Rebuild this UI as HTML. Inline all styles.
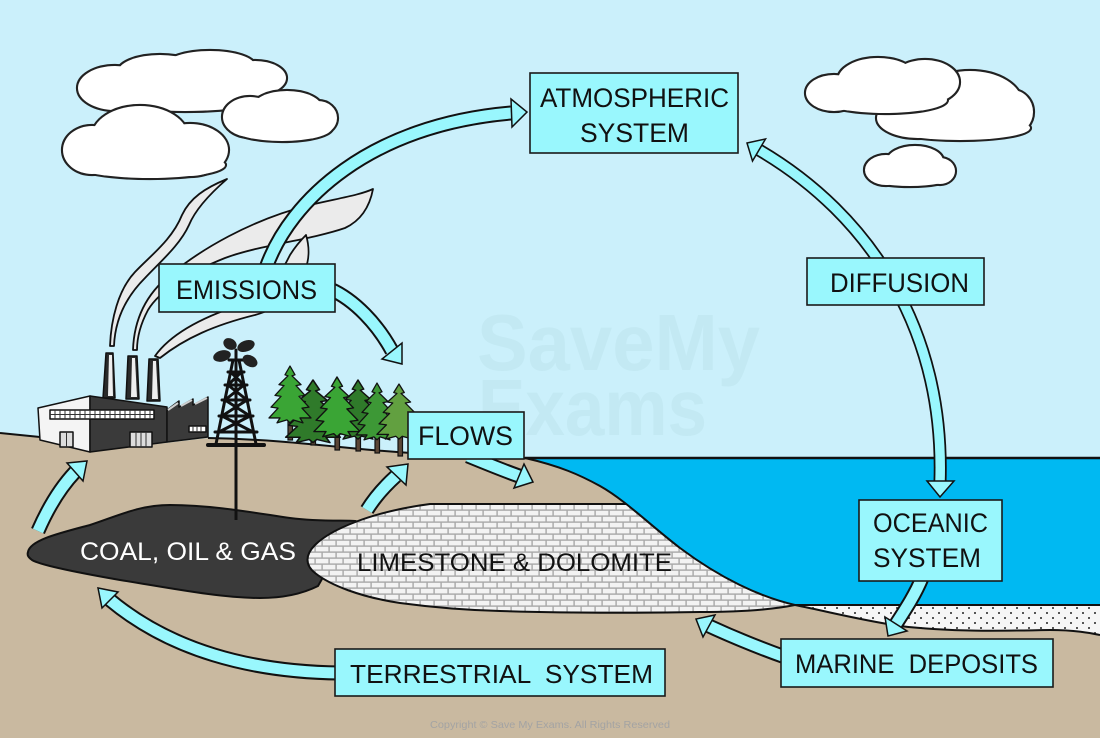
<!DOCTYPE html>
<html><head><meta charset="utf-8">
<style>html,body{margin:0;padding:0;background:#cbf0fb}svg{display:block}</style>
</head><body>
<svg width="1100" height="738" viewBox="0 0 1100 738" xmlns="http://www.w3.org/2000/svg">
<defs>
  <pattern id="brick" width="28" height="12" patternUnits="userSpaceOnUse">
    <rect width="28" height="12" fill="#a8a8a8"/>
    <rect x="0.8" y="0.8" width="12.6" height="4.6" fill="#f3f3f3"/>
    <rect x="14.8" y="0.8" width="12.6" height="4.6" fill="#f3f3f3"/>
    <rect x="-6.2" y="6.8" width="12.6" height="4.6" fill="#f3f3f3"/>
    <rect x="7.8" y="6.8" width="12.6" height="4.6" fill="#f3f3f3"/>
    <rect x="21.8" y="6.8" width="12.6" height="4.6" fill="#f3f3f3"/>
  </pattern>
  <pattern id="dots" width="12" height="10" patternUnits="userSpaceOnUse">
    <rect width="12" height="10" fill="#f6f6f6"/>
    <circle cx="3" cy="3" r="1" fill="#222"/>
    <circle cx="9" cy="8" r="1" fill="#222"/>
  </pattern>
  <polygon id="pine" points="0,0 5,9 2,10 11,19 6,20 15,30 9,31 19,42 12,43 21,53 10,53 13,58 3,55 0,58 -3,55 -13,58 -10,53 -21,53 -12,43 -19,42 -9,31 -15,30 -6,20 -11,19 -2,10 -5,9" stroke="#111" stroke-width="1.3" stroke-linejoin="round"/>
</defs>

<!-- sky -->
<rect width="1100" height="738" fill="#cbf0fb"/>

<!-- watermark -->
<g font-family="'Liberation Sans', 'DejaVu Sans', sans-serif" font-weight="bold" fill="#c3e9f3">
  <text x="477" y="370" font-size="80" textLength="283" lengthAdjust="spacingAndGlyphs">SaveMy</text>
  <text x="478" y="435" font-size="80" textLength="229" lengthAdjust="spacingAndGlyphs">Exams</text>
</g>

<!-- clouds -->
<g>
  <g fill="#222" stroke="#222" stroke-width="4.2">
    <ellipse cx="115" cy="88" rx="37" ry="22"/><ellipse cx="160" cy="72" rx="42" ry="17"/><ellipse cx="210" cy="66" rx="45" ry="15"/><ellipse cx="255" cy="78" rx="31" ry="17"/><ellipse cx="185" cy="94" rx="90" ry="17"/>
  </g>
  <g fill="#fff">
    <ellipse cx="115" cy="88" rx="37" ry="22"/><ellipse cx="160" cy="72" rx="42" ry="17"/><ellipse cx="210" cy="66" rx="45" ry="15"/><ellipse cx="255" cy="78" rx="31" ry="17"/><ellipse cx="185" cy="94" rx="90" ry="17"/>
  </g>
  <g fill="#222" stroke="#222" stroke-width="4.2">
    <ellipse cx="92" cy="150" rx="29" ry="24"/><ellipse cx="140" cy="137" rx="48" ry="31"/><ellipse cx="190" cy="150" rx="38" ry="26"/><ellipse cx="150" cy="165" rx="75" ry="13"/>
  </g>
  <g fill="#fff">
    <ellipse cx="92" cy="150" rx="29" ry="24"/><ellipse cx="140" cy="137" rx="48" ry="31"/><ellipse cx="190" cy="150" rx="38" ry="26"/><ellipse cx="150" cy="165" rx="75" ry="13"/>
  </g>
  <g fill="#222" stroke="#222" stroke-width="4.2">
    <ellipse cx="250" cy="117" rx="27" ry="20"/><ellipse cx="287" cy="108" rx="35" ry="17"/><ellipse cx="318" cy="118" rx="19" ry="17"/><ellipse cx="282" cy="128" rx="50" ry="13"/>
  </g>
  <g fill="#fff">
    <ellipse cx="250" cy="117" rx="27" ry="20"/><ellipse cx="287" cy="108" rx="35" ry="17"/><ellipse cx="318" cy="118" rx="19" ry="17"/><ellipse cx="282" cy="128" rx="50" ry="13"/>
  </g>
  <!-- right clouds -->
  <g fill="#222" stroke="#222" stroke-width="4.2">
    <ellipse cx="918" cy="118" rx="41" ry="20"/><ellipse cx="970" cy="103" rx="52" ry="32"/><ellipse cx="1012" cy="112" rx="21" ry="22"/><ellipse cx="960" cy="128" rx="70" ry="12"/>
  </g>
  <g fill="#fff">
    <ellipse cx="918" cy="118" rx="41" ry="20"/><ellipse cx="970" cy="103" rx="52" ry="32"/><ellipse cx="1012" cy="112" rx="21" ry="22"/><ellipse cx="960" cy="128" rx="70" ry="12"/>
  </g>
  <g fill="#222" stroke="#222" stroke-width="4.2">
    <ellipse cx="834" cy="93" rx="28" ry="18"/><ellipse cx="878" cy="80" rx="40" ry="22"/><ellipse cx="925" cy="82" rx="34" ry="22"/><ellipse cx="885" cy="100" rx="62" ry="13"/>
  </g>
  <g fill="#fff">
    <ellipse cx="834" cy="93" rx="28" ry="18"/><ellipse cx="878" cy="80" rx="40" ry="22"/><ellipse cx="925" cy="82" rx="34" ry="22"/><ellipse cx="885" cy="100" rx="62" ry="13"/>
  </g>
  <g fill="#222" stroke="#222" stroke-width="4.2">
    <ellipse cx="886" cy="170" rx="21" ry="15"/><ellipse cx="915" cy="161" rx="28" ry="15"/><ellipse cx="940" cy="171" rx="15" ry="13"/><ellipse cx="910" cy="178" rx="40" ry="8"/>
  </g>
  <g fill="#fff">
    <ellipse cx="886" cy="170" rx="21" ry="15"/><ellipse cx="915" cy="161" rx="28" ry="15"/><ellipse cx="940" cy="171" rx="15" ry="13"/><ellipse cx="910" cy="178" rx="40" ry="8"/>
  </g>
</g>

<!-- smoke plumes -->
<g fill="#ebebeb" stroke="#111" stroke-width="1.8" stroke-linejoin="round">
  <path d="M110,346 C111,320 118,290 135,272 C150,256 172,240 182,215 C190,198 205,188 227,179 C212,192 196,208 189,225 C180,245 160,262 145,278 C125,298 115,320 114,346 Z"/>
  <path d="M133,350 C134,320 145,295 170,275 C200,250 250,220 310,205 C340,198 360,195 373,189 C370,205 362,220 345,228 C310,240 260,245 225,258 C190,272 160,290 148,310 C140,325 137,338 137,350 Z"/>
  <path d="M155,356 C170,335 200,318 240,305 C262,297 278,280 290,255 C295,247 300,241 306,235 C309,245 310,258 305,270 C295,295 280,308 255,315 C215,325 185,338 160,358 Z"/>
</g>

<!-- ground -->
<path d="M0,433 L40,437 L90,452 L165,443 L208,438 C260,439 300,443 350,448 C400,453 470,457 525,458 L1100,458 L1100,738 L0,738 Z" fill="#c9b9a0"/>
<path d="M0,433 L40,437 M208,438 C260,439 300,443 350,448 C400,453 470,457 525,458" fill="none" stroke="#111" stroke-width="2"/>

<!-- coal -->
<path d="M28,552 C30,540 60,533 90,525 C120,515 140,505 170,505 C210,505 250,512 290,518 C320,522 345,520 355,521 L318,586 C300,595 280,598 260,598 C220,598 170,588 120,580 C80,573 40,565 32,560 C28,557 27,555 28,552 Z" fill="#3a3a3a" stroke="#111" stroke-width="2"/>

<!-- limestone -->
<path d="M430,504 L700,504 L795,605 C770,610 740,612 700,612 C640,613 560,613 500,611 C460,610 430,607 400,603 C360,597 330,585 315,573 C305,565 305,555 315,545 C330,530 370,512 430,504 Z" fill="url(#brick)" stroke="#111" stroke-width="2"/>

<!-- ocean -->
<path d="M525,458 L1100,458 L1100,605 L795,605 C760,597 720,578 680,548 C650,525 625,500 600,486 C580,475 560,466 525,458 Z" fill="#00b9f2"/>
<!-- sediment -->
<path d="M795,605 L1100,605 L1100,635 C1090,633 1075,630 1050,630 C1000,631 950,632 900,626 C860,620 830,612 795,605 Z" fill="url(#dots)"/>
<g fill="none" stroke="#111" stroke-width="2">
  <path d="M525,458 L1100,458" stroke-width="2.5"/>
  <path d="M525,458 C560,466 580,475 600,486 C625,500 650,525 680,548 C720,578 760,597 795,605"/>
  <path d="M795,605 L1100,605"/>
  <path d="M795,605 C830,612 860,620 900,626 C950,632 1000,631 1050,630 C1075,630 1090,633 1100,635"/>
</g>

<!-- oil pipe -->
<line x1="236" y1="440" x2="236" y2="520" stroke="#111" stroke-width="3"/>

<!-- factory -->
<g stroke="#111" stroke-width="1.5" stroke-linejoin="round">
  <polygon points="106,353 113,353 115,398 103,398" fill="#2a2a2a"/>
  <polygon points="109,355 112,355 113,396 108,396" fill="#eee" stroke="none"/>
  <polygon points="128,356 137,356 139,399 126,399" fill="#2a2a2a"/>
  <polygon points="132,358 135,358 137,397 131,397" fill="#eee" stroke="none"/>
  <polygon points="149,359 158,359 160,401 147,401" fill="#2a2a2a"/>
  <polygon points="153,361 156,361 158,399 152,399" fill="#eee" stroke="none"/>
  <polygon points="38,408 90,396 90,452 40,440" fill="#f4f4f4"/>
  <polygon points="90,396 167,407 167,442 90,452" fill="#3a3a3a"/>
  <polygon points="167,442 167,410 179,401 179,407 193,399 193,405 208,397 208,437" fill="#3a3a3a"/>
  <rect x="50" y="410" width="104" height="9" fill="#fff"/>
  <rect x="189" y="426" width="17" height="6" fill="#fff"/>
  <rect x="60" y="432" width="13" height="15" fill="#ddd"/>
  <rect x="130" y="432" width="22" height="15" fill="#ddd"/>
</g>
<g stroke="#333" stroke-width="1">
  <path d="M55,410 V419 M60,410 V419 M65,410 V419 M70,410 V419 M75,410 V419 M80,410 V419 M85,410 V419 M90,410 V419 M95,410 V419 M100,410 V419 M105,410 V419 M110,410 V419 M115,410 V419 M120,410 V419 M125,410 V419 M130,410 V419 M135,410 V419 M140,410 V419 M145,410 V419 M150,410 V419 M50,414.5 H154"/>
  <path d="M193,426 V432 M197,426 V432 M201,426 V432 M66.5,432 V447 M136,432 V447 M141,432 V447 M146,432 V447"/>
</g>
<g stroke="#cfcfcf" stroke-width="2">
  <path d="M168,410 L178,403 M181,406 L192,400 M195,404 L207,398"/>
</g>

<!-- oil rig -->
<g stroke="#111" stroke-width="3" fill="none" stroke-linecap="round">
  <path d="M233,360 L216,444 M239,360 L256,444 M236,350 L236,444"/>
  <path d="M229,360 H243 M228,372 H244 M225,385 H247 M222,400 H250 M219,416 H253 M215,432 H257"/>
  <path d="M230.6,372 L244,385 M241.4,372 L228,385 M228,385 L247,400 M244,385 L225,400 M225,400 L250,416 M247,400 L222,416 M222,416 L253,432 M250,416 L219,432"/>
  <path d="M208,445 H264" stroke-width="4"/>
</g>
<g fill="#222">
  <ellipse cx="230" cy="344" rx="7" ry="5.5" transform="rotate(30 230 344)"/>
  <ellipse cx="246" cy="346" rx="9" ry="5.5" transform="rotate(-20 246 346)"/>
  <ellipse cx="222" cy="356" rx="9" ry="5.5" transform="rotate(-15 222 356)"/>
  <ellipse cx="250" cy="361" rx="8" ry="5.5" transform="rotate(30 250 361)"/>
</g>

<!-- trees -->
<g fill="#5b4636" stroke="#111" stroke-width="1.2">
  <rect x="288" y="418" width="4.5" height="22"/>
  <rect x="311" y="430" width="4.5" height="15"/>
  <rect x="335" y="428" width="4.5" height="22"/>
  <rect x="356" y="432" width="4.5" height="19"/>
  <rect x="375" y="435" width="4.5" height="18"/>
  <rect x="398" y="436" width="4.5" height="20"/>
</g>
<use href="#pine" transform="translate(313,380) scale(1.3,1.08)" fill="#2f7a2a"/>
<use href="#pine" transform="translate(358,380) scale(1.15,1.02)" fill="#2f7a2a"/>
<use href="#pine" transform="translate(290,366) scale(1.0,0.98)" fill="#3aa535"/>
<use href="#pine" transform="translate(337,377) scale(1.1,1.03)" fill="#3aa535"/>
<use href="#pine" transform="translate(377,383) scale(1.0,0.98)" fill="#3d9836"/>
<use href="#pine" transform="translate(399,384) scale(1.05,0.95)" fill="#62a040"/>

<!-- arrows -->
<g fill="none" stroke-linecap="butt">
  <g stroke="#111" stroke-width="15">
    <path d="M266,268 C290,200 370,125 511,113"/>
    <path d="M330,289 C355,300 378,325 392,351"/>
    <path d="M922,578 C915,595 905,610 896,624"/>
    <path d="M785,657 C760,648 735,638 709,626"/>
    <path d="M340,673 C250,672 170,650 110,600"/>
    <path d="M38,531 C48,508 60,488 75,472"/>
    <path d="M367,510 C375,497 385,486 396,476"/>
    <path d="M468,456 C485,463 502,470 519,476"/>
  </g>
  <path d="M759,150 C870,215 945,330 940,482" stroke="#111" stroke-width="13"/>
  <g stroke="#99f7fd" stroke-width="11">
    <path d="M266,268 C290,200 370,125 511,113"/>
    <path d="M330,289 C355,300 378,325 392,351"/>
    <path d="M922,578 C915,595 905,610 896,624"/>
    <path d="M785,657 C760,648 735,638 709,626"/>
    <path d="M340,673 C250,672 170,650 110,600"/>
    <path d="M38,531 C48,508 60,488 75,472"/>
    <path d="M367,510 C375,497 385,486 396,476"/>
    <path d="M468,456 C485,463 502,470 519,476"/>
  </g>
  <path d="M759,150 C870,215 945,330 940,482" stroke="#99f7fd" stroke-width="9.5"/>
</g>
<g fill="#99f7fd" stroke="#111" stroke-width="1.5" stroke-linejoin="miter">
  <polygon points="511,99 527,112 512,127"/>
  <polygon points="382,359 402,364 402,343"/>
  <polygon points="747,143 765.5,139 752.5,161"/>
  <polygon points="927,481 940,497 954,481"/>
  <polygon points="907,631 888,636 885,617"/>
  <polygon points="703,637 696,619 715,615"/>
  <polygon points="102,608 98,588 118,592"/>
  <polygon points="67,463 87,461 83,481"/>
  <polygon points="387,467 408,464 406,485"/>
  <polygon points="524,464 533,482 514,488"/>
</g>

<!-- boxes -->
<g fill="#99f7fd" stroke="#1a1a1a" stroke-width="1.6">
  <rect x="530" y="73" width="208" height="80"/>
  <rect x="159" y="264" width="176" height="48"/>
  <rect x="807" y="258" width="177" height="47"/>
  <rect x="408" y="412" width="116" height="47"/>
  <rect x="859" y="500" width="143" height="81"/>
  <rect x="781" y="639" width="272" height="48"/>
  <rect x="335" y="649" width="330" height="47"/>
</g>

<!-- labels -->
<g font-family="'Liberation Sans', 'DejaVu Sans', sans-serif" fill="#111" font-size="27">
  <text x="540" y="107" textLength="189" lengthAdjust="spacingAndGlyphs">ATMOSPHERIC</text>
  <text x="580" y="142" textLength="109" lengthAdjust="spacingAndGlyphs">SYSTEM</text>
  <text x="830" y="292" textLength="139" lengthAdjust="spacingAndGlyphs">DIFFUSION</text>
  <text x="176" y="299" textLength="141" lengthAdjust="spacingAndGlyphs">EMISSIONS</text>
  <text x="418" y="445" textLength="95" lengthAdjust="spacingAndGlyphs">FLOWS</text>
  <text x="873" y="532" textLength="115" lengthAdjust="spacingAndGlyphs">OCEANIC</text>
  <text x="873" y="567" textLength="108" lengthAdjust="spacingAndGlyphs">SYSTEM</text>
  <text x="795" y="673" textLength="243" lengthAdjust="spacingAndGlyphs" xml:space="preserve">MARINE  DEPOSITS</text>
  <text x="350" y="683" font-size="26" textLength="303" lengthAdjust="spacingAndGlyphs" xml:space="preserve">TERRESTRIAL  SYSTEM</text>
  <text x="80" y="560" font-size="25" fill="#fff" textLength="216" lengthAdjust="spacingAndGlyphs">COAL, OIL &amp; GAS</text>
  <text x="357" y="571" font-size="25" textLength="315" lengthAdjust="spacingAndGlyphs">LIMESTONE &amp; DOLOMITE</text>
</g>

<text x="430" y="728" font-family="'Liberation Sans', 'DejaVu Sans', sans-serif" font-size="10.5" fill="#a3a3a3" textLength="240" lengthAdjust="spacingAndGlyphs">Copyright © Save My Exams. All Rights Reserved</text>
</svg>
</body></html>
